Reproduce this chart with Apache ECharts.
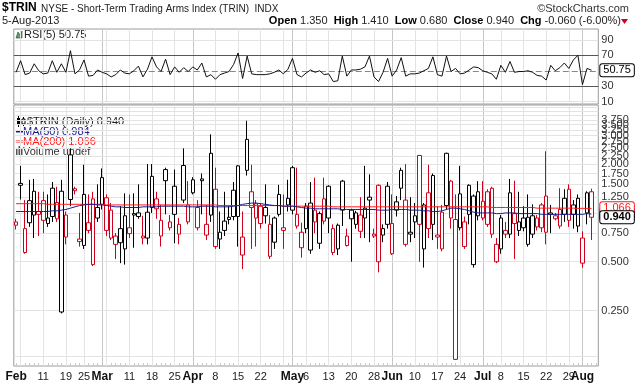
<!DOCTYPE html>
<html><head><meta charset="utf-8">
<script src="https://cdn.jsdelivr.net/npm/echarts@6/dist/echarts.min.js"></script>
<style>html,body{margin:0;padding:0;background:#fff}#c{width:640px;height:383px}</style>
</head><body><div id="c"></div>
<script>
// ---------------- data ----------------
const asOf = '5-Aug-2013';
const dates = [
'2/1','2/4','2/5','2/6','2/7','2/8','2/11','2/12','2/13','2/14','2/15','2/19','2/20','2/21','2/22','2/25','2/26','2/27','2/28',
'3/1','3/4','3/5','3/6','3/7','3/8','3/11','3/12','3/13','3/14','3/15','3/18','3/19','3/20','3/21','3/22','3/25','3/26','3/27','3/28',
'4/1','4/2','4/3','4/4','4/5','4/8','4/9','4/10','4/11','4/12','4/15','4/16','4/17','4/18','4/19','4/22','4/23','4/24','4/25','4/26','4/29','4/30',
'5/1','5/2','5/3','5/6','5/7','5/8','5/9','5/10','5/13','5/14','5/15','5/16','5/17','5/20','5/21','5/22','5/23','5/24','5/28','5/29','5/30','5/31',
'6/3','6/4','6/5','6/6','6/7','6/10','6/11','6/12','6/13','6/14','6/17','6/18','6/19','6/20','6/21','6/24','6/25','6/26','6/27','6/28',
'7/1','7/2','7/3','7/5','7/8','7/9','7/10','7/11','7/12','7/15','7/16','7/17','7/18','7/19','7/22','7/23','7/24','7/25','7/26','7/29','7/30','7/31',
'8/1','8/2','8/5'];
const opens = [0.88,1.52,0.57,1.19,0.97,1.02,1.19,0.86,0.95,1.16,
 0.245,0.71,1.21,1.41,0.665,0.63,0.87,1.22,0.93,1.65,
 1.24,1.04,0.72,0.655,0.60,0.81,0.99,0.95,0.72,0.70,
 1.08,1.06,0.72,1.58,0.81,0.98,0.74,1.96,1.12,1.60,
 0.81,1.62,0.85,2.33,1.40,0.69,0.78,0.94,0.95,0.95,
 0.55,1.83,1.35,1.14,1.10,1.08,0.54,0.66,0.98,0.81,
 1.12,1.04,0.83,0.61,1.10,0.59,1.04,0.65,1.22,1.46,
 0.80,0.84,1.04,0.72,1.04,0.85,0.77,0.93,1.25,0.74,
 1.48,0.73,0.85,0.86,1.04,1.42,1.20,0.74,0.96,2.26,
 0.60,1.33,0.85,0.73,1.01,1.11,1.57,0.125,0.81,0.88,
 1.48,0.48,0.96,0.93,1.35,1.42,0.50,0.60,0.78,0.74,
 0.99,0.78,0.81,0.64,0.74,0.93,1.12,1.27,1.00,0.96,
 1.05,1.23,1.40,0.98,0.83,0.70,1.33,1.35];
const highs = [0.92,1.95,1.20,1.60,1.62,1.35,1.35,1.30,1.55,1.45,
 1.60,1.02,2.50,1.45,1.00,1.98,1.30,1.35,1.50,1.88,
 1.30,1.15,0.75,1.10,1.32,1.30,1.32,1.50,0.96,2.00,
 2.00,1.35,1.12,1.90,0.97,1.85,0.93,2.50,1.57,1.66,
 1.20,1.75,1.12,3.05,1.90,1.02,1.35,1.10,1.55,1.97,
 1.02,3.70,1.98,1.20,1.15,1.50,0.97,0.95,1.49,1.30,
 1.60,1.95,1.90,0.87,1.15,1.55,1.65,1.02,1.65,1.48,
 0.85,0.86,1.60,0.80,1.06,1.03,1.25,1.95,1.73,0.80,
 1.50,0.85,1.55,1.30,1.27,1.90,2.00,1.25,1.15,2.28,
 1.15,1.98,1.75,1.10,1.12,2.35,1.60,1.30,1.95,0.95,
 1.50,1.30,1.57,1.57,1.40,1.45,0.70,0.97,0.88,1.62,
 1.58,1.35,1.10,1.30,1.13,0.97,1.15,2.40,1.12,1.00,
 1.42,1.40,1.50,1.20,1.30,0.77,1.36,1.41];
const lows = [0.79,1.21,0.56,0.82,0.70,0.72,0.75,0.82,0.88,0.88,
 0.24,0.64,1.10,1.30,0.62,0.60,0.75,0.47,0.88,1.05,
 0.72,0.68,0.52,0.49,0.48,0.70,0.61,0.92,0.64,0.64,
 1.00,0.92,0.62,0.98,0.78,0.65,0.64,1.15,0.85,1.30,
 0.78,0.98,0.68,0.88,0.60,0.60,0.72,0.85,0.90,0.62,
 0.45,1.70,0.60,0.62,0.80,0.86,0.52,0.60,0.95,0.60,
 1.02,0.98,0.80,0.53,0.75,0.56,0.75,0.60,0.85,0.75,
 0.55,0.55,0.83,0.62,0.50,0.80,0.70,0.70,0.66,0.70,
 0.43,0.66,0.80,0.55,0.95,1.20,0.62,0.66,0.70,0.50,
 0.46,0.70,0.68,0.60,0.58,1.05,0.80,0.124,0.78,0.60,
 0.85,0.46,0.90,0.90,0.82,0.70,0.49,0.56,0.70,0.70,
 0.52,0.72,0.77,0.62,0.70,0.78,0.76,0.64,0.75,0.90,
 0.80,0.88,0.82,0.80,0.76,0.46,0.85,0.68];
const closes = [0.84,1.48,0.80,0.87,1.36,0.98,0.90,0.93,1.42,0.92,
 1.36,0.97,2.28,1.37,0.69,1.30,0.78,0.48,1.08,1.13,
 0.78,0.70,0.64,0.80,0.96,0.745,0.97,1.00,0.70,1.01,
 1.68,1.22,0.90,1.85,0.88,1.46,0.85,1.20,0.88,1.33,
 1.08,1.58,0.73,0.97,0.62,0.76,0.89,0.91,1.38,1.95,
 0.71,2.84,1.08,0.93,0.86,0.96,0.85,0.93,1.30,0.78,
 1.23,1.90,0.98,0.76,0.80,1.15,0.88,0.99,0.89,0.93,
 0.57,0.60,1.57,0.63,0.92,1.00,0.97,1.07,1.20,0.72,
 0.50,0.80,1.46,0.56,1.17,1.83,0.64,0.76,0.88,0.85,
 1.12,0.80,1.70,0.71,0.60,2.33,0.93,0.91,1.31,0.62,
 0.98,1.27,1.35,1.18,0.85,0.74,0.64,0.93,0.74,1.33,
 0.86,0.88,0.93,0.94,0.96,0.82,0.81,0.76,0.98,0.92,
 0.83,0.98,0.90,1.12,1.23,0.49,1.00,0.94];
const prevClose0 = 0.95;
const ma50 = [1.02,1.02,1.02,1.02,1.02,1.02,1.02,1.02,1.03,1.03,
 1.04,1.05,1.07,1.09,1.11,1.12,1.13,1.13,1.12,1.12,
 1.11,1.10,1.09,1.09,1.08,1.08,1.08,1.08,1.09,1.09,
 1.09,1.09,1.10,1.10,1.10,1.10,1.10,1.10,1.09,1.09,
 1.09,1.10,1.10,1.10,1.09,1.09,1.09,1.09,1.10,1.11,
 1.13,1.14,1.15,1.15,1.14,1.13,1.12,1.11,1.11,1.10,
 1.10,1.10,1.09,1.08,1.07,1.07,1.06,1.06,1.06,1.06,
 1.06,1.06,1.05,1.05,1.05,1.05,1.05,1.05,1.05,1.05,
 1.04,1.04,1.04,1.05,1.05,1.05,1.05,1.04,1.04,1.04,
 1.03,1.03,1.02,1.02,1.03,1.05,1.07,1.07,1.06,1.05,
 1.03,1.01,1.00,1.00,1.00,1.00,0.99,0.99,1.00,1.00,
 1.00,0.99,0.99,0.99,0.99,0.99,0.98,0.98,0.98,0.98,
 0.98,0.98,0.98,0.98,0.98,0.98,0.99,0.984];
const ma200 = [1.14,1.14,1.14,1.14,1.14,1.14,1.14,1.13,1.13,1.13,
 1.13,1.13,1.13,1.13,1.13,1.13,1.13,1.13,1.13,1.13,
 1.12,1.12,1.12,1.12,1.12,1.12,1.12,1.12,1.12,1.12,
 1.12,1.12,1.12,1.12,1.12,1.12,1.12,1.12,1.12,1.12,
 1.12,1.12,1.12,1.12,1.12,1.11,1.11,1.11,1.11,1.11,
 1.11,1.11,1.11,1.11,1.11,1.11,1.11,1.11,1.11,1.10,
 1.10,1.10,1.10,1.10,1.10,1.10,1.10,1.10,1.10,1.10,
 1.09,1.09,1.09,1.09,1.09,1.09,1.09,1.09,1.09,1.09,
 1.09,1.09,1.09,1.09,1.09,1.09,1.09,1.09,1.09,1.09,
 1.09,1.09,1.09,1.09,1.09,1.09,1.09,1.09,1.09,1.09,
 1.09,1.09,1.09,1.09,1.09,1.08,1.08,1.08,1.08,1.08,
 1.08,1.08,1.08,1.08,1.08,1.07,1.07,1.07,1.07,1.07,
 1.07,1.07,1.07,1.07,1.067,1.067,1.066,1.066];
const rsi5 = [48,63,45,47,59,50,46,47,63,48,
 59,48,76,46,51,64,43,44,51,48,
 46,42,45,51,47,46,50,56,42,52,
 68,55,49,65,45,55,48,54,49,55,
 51,60,42,45,39,45,47,49,58,73,
 40,69,46,45,45,45,46,48,51,46,
 52,66,45,42,47,51,48,50,45,46,
 36,37,69,43,51,51,52,55,69,42,
 36,48,66,43,51,67,43,46,46,47,
 50,53,68,45,43,69,49,53,46,47,
 51,55,54,50,48,46,39,57,48,62,
 48,49,49,50,48,44,43,38,57,50,
 54,60,53,64,70,32,53,50.75];
const tickDates  = ['2/1','2/11','2/19','2/25','3/1','3/11','3/18','3/25','4/1','4/8','4/15','4/22','5/1','5/6','5/13','5/20','5/28','6/3','6/10','6/17','6/24','7/1','7/8','7/15','7/22','7/29','8/1'];
const tickLabels = ['Feb','11','19','25','Mar','11','18','25','Apr','8','15','22','May','6','13','20','28','Jun','10','17','24','Jul','8','15','22','29','Aug'];
const extraGridDates = ['2/4','3/4','4/29'];
const priceTicks = [0.25,0.5,0.75,1.25,1.5,1.75,2,2.25,2.5,2.75,3,3.25,3.5,3.75];
const priceGridOnly = [0.125,1,4,4.25,4.5];
const rsiTicks = [90,70,30,10];

// ---------------- chart ----------------
const FONT = '"Liberation Sans", Arial, Helvetica, sans-serif';
const BLACK = '#000000', RED = '#d0021b', BLUE = '#1c1c8c', MARED = '#ff1a1a';
const n = dates.length;
const cats = dates.concat(['']);
const months = new Set(['Feb','Mar','Apr','May','Jun','Jul','Aug']);
const tickText = {}; tickDates.forEach((d,k)=>{ tickText[d] = tickLabels[k]; });

const candleData = opens.map((o,i)=>{
  const c = closes[i], pc = i ? closes[i-1] : prevClose0;
  const col = c >= pc ? BLACK : RED;
  return {value:[o, c, lows[i], highs[i]], itemStyle:{color:'#ffffff', color0:col, borderColor:col, borderColor0:col}};
});

const vGrid = tickDates.concat(extraGridDates).filter(d=>d!==dates[0]).map(d=>({
  xAxis: d, label:{show:false},
  lineStyle:{color: months.has(tickText[d]) ? '#c6c6c6' : '#e3e3e3', width:1, type:'solid'}
}));
const hMain = priceTicks.map(v=>({yAxis:v, label:{show:true, formatter:v.toFixed(3)}}))
  .concat(priceGridOnly.map(v=>({yAxis:v, label:{show:false}})));
const hRsi = rsiTicks.map(v=>({yAxis:v, label:{show:true, formatter:String(v)},
  lineStyle:{color:(v===70||v===30)?'#555':'#e3e3e3', width:1, type:'solid'}}))
  .concat([{yAxis:50, label:{show:false}, lineStyle:{color:'#888', width:1, type:[6,3]}}]);

const axisLbl = {show:true, position:'end', distance:3, fontSize:11, fontFamily:FONT, color:'#333'};
const gridMark = (data)=>({silent:true, symbol:['none','none'], z:1, animation:false,
  label:axisLbl, lineStyle:{color:'#e3e3e3', width:1, type:'solid'}, data});
const tag = (v, txt, col, bold)=>({yAxis:v, lineStyle:{color:'rgba(0,0,0,0)'},
  label:{show:true, position:'end', distance:2, formatter:txt, color:col, fontSize:11, fontFamily:FONT,
    fontWeight: bold?'bold':'normal', backgroundColor:'#fff', borderColor:col, borderWidth:1, borderRadius:2, padding:[1,3,0,3]}});

const last = n-1;
const chg = closes[last]-closes[last-1];
const f3 = v=>v.toFixed(3);

const chart = echarts.init(document.getElementById('c'), null, {renderer:'canvas'});
chart.setOption({
  animation:false,
  backgroundColor:'#fff',
  textStyle:{fontFamily:FONT},
  grid:[
    {left:13.8, right:41.7, top:29, height:75, show:true, borderColor:'#9a9a9a', borderWidth:1, backgroundColor:'transparent'},
    {left:13.8, right:41.7, top:105, height:262, show:true, borderColor:'#9a9a9a', borderWidth:1, backgroundColor:'transparent'}
  ],
  xAxis:[
    {type:'category', gridIndex:0, data:cats, boundaryGap:true, axisLine:{show:false}, axisTick:{show:false}, axisLabel:{show:false}, splitLine:{show:false}},
    {type:'category', gridIndex:1, data:cats, boundaryGap:true, axisLine:{show:false},
     axisTick:{show:true, inside:true, length:3, interval:0, alignWithLabel:true, lineStyle:{color:'#c8c8c8'}},
     splitLine:{show:false},
     axisLabel:{show:true, margin:5, fontSize:11, fontFamily:FONT, color:'#222', hideOverlap:false,
       interval:(i,v)=>(tickText[v]!==undefined || i===n),
       formatter:(v)=>{const t=tickText[v]; if(t===undefined) return ' '; return months.has(t)?'{m|'+t+'}':t;},
       rich:{m:{fontWeight:'bold', fontSize:12, fontFamily:FONT, color:'#111'}}}}
  ],
  yAxis:[
    {type:'value', gridIndex:0, min:7, max:104, show:false, splitLine:{show:false}},
    {type:'log', logBase:2, gridIndex:1, min:0.1138, max:4.627, show:false, splitLine:{show:false}}
  ],
  series:[
    {type:'line', xAxisIndex:0, yAxisIndex:0, data:rsi5, symbol:'none', silent:true, z:1,
     lineStyle:{opacity:0}, markLine:gridMark(vGrid.concat(hRsi))},
    {type:'line', xAxisIndex:1, yAxisIndex:1, data:closes, symbol:'none', silent:true, z:1,
     lineStyle:{opacity:0}, markLine:gridMark(vGrid.concat(hMain))},
    {type:'line', name:'RSI', xAxisIndex:0, yAxisIndex:0, data:rsi5, symbol:'none', z:3,
     lineStyle:{color:'#111', width:1},
     markLine:{silent:true, symbol:['none','none'], z:10, animation:false, data:[tag(rsi5[last], String(rsi5[last]), '#000', false)]}},
    {type:'candlestick', xAxisIndex:1, yAxisIndex:1, data:candleData, barWidth:4, z:2},
    {type:'line', xAxisIndex:1, yAxisIndex:1, data:ma200, symbol:'none', z:4, lineStyle:{color:MARED, width:1}},
    {type:'line', xAxisIndex:1, yAxisIndex:1, data:ma50, symbol:'none', z:4, lineStyle:{color:BLUE, width:1},
     markLine:{silent:true, symbol:['none','none'], z:10, animation:false, data:[
       tag(ma50[last], f3(ma50[last]), BLUE, false),
       tag(ma200[last], f3(ma200[last]), MARED, false),
       tag(closes[last], f3(closes[last]), '#000', true)]}}
  ],
  graphic:[
    {type:'text', left:2, top:2, style:{text:'$TRIN', fontSize:12, fontWeight:'bold', fontFamily:FONT, fill:'#000'}},
    {type:'text', left:41, top:4, style:{text:'NYSE - Short-Term Trading Arms Index (TRIN)  INDX', fontSize:10, fontFamily:FONT, fill:'#222'}},
    {type:'text', right:11, top:3, style:{text:'\u00a9StockCharts.com', fontSize:11, fontFamily:FONT, fill:'#333'}},
    {type:'text', left:2, top:15, style:{text:asOf, fontSize:11, fontFamily:FONT, fill:'#222'}},
    {type:'text', right:19, top:15, style:{
      text:'{b|Open} '+f3(opens[last])+'  {b|High} '+f3(highs[last])+'  {b|Low} '+f3(lows[last])+'  {b|Close} '+f3(closes[last])+'  {b|Chg} '+chg.toFixed(3)+' ('+(chg/closes[last-1]*100).toFixed(2)+'%)',
      fontSize:11, fontFamily:FONT, fill:'#222', rich:{b:{fontSize:11, fontWeight:'bold', fontFamily:FONT, fill:'#000'}}}},
    {type:'polygon', shape:{points:[[621,19],[628,19],[624.5,24]]}, style:{fill:RED}},
    // RSI legend
    {type:'polygon', shape:{points:[[16,38],[18,32],[20,35],[22,31],[22,38]]}, style:{fill:'#4caf50', stroke:'#333', lineWidth:0.6}},
    {type:'text', left:24, top:29, style:{text:'RSI(5) '+rsi5[last], fontSize:11, fontFamily:FONT, fill:'#222'}},
    // main legend
    {type:'line', shape:{x1:18.5, y1:116, x2:18.5, y2:127}, style:{stroke:'#000', lineWidth:1}},
    {type:'rect', shape:{x:17, y:118, width:3, height:6}, style:{fill:'#000'}},
    {type:'line', shape:{x1:23.5, y1:117, x2:23.5, y2:126}, style:{stroke:'#000', lineWidth:1}},
    {type:'rect', shape:{x:22, y:119, width:3, height:5}, style:{fill:'#fff', stroke:'#000', lineWidth:1}},
    {type:'text', left:27, top:116, style:{text:'$TRIN (Daily) '+f3(closes[last]), fontSize:11, fontFamily:FONT, fill:'#222'}},
    {type:'line', shape:{x1:16, y1:131.5, x2:23, y2:131.5}, style:{stroke:BLUE, lineWidth:2}},
    {type:'text', left:23, top:126, style:{text:'MA(50) '+f3(ma50[last]), fontSize:11, fontFamily:FONT, fill:BLUE}},
    {type:'line', shape:{x1:16, y1:141.5, x2:23, y2:141.5}, style:{stroke:MARED, lineWidth:2}},
    {type:'text', left:23, top:136, style:{text:'MA(200) '+f3(ma200[last]), fontSize:11, fontFamily:FONT, fill:MARED}},
    {type:'rect', shape:{x:16, y:148, width:1.5, height:7}, style:{fill:'#555'}},
    {type:'rect', shape:{x:18.5, y:146, width:1.5, height:9}, style:{fill:'#555'}},
    {type:'rect', shape:{x:21, y:149, width:1.5, height:6}, style:{fill:'#555'}},
    {type:'text', left:23, top:146, style:{text:'Volume undef', fontSize:11, fontFamily:FONT, fill:'#333'}}
  ]
});
</script>
</body></html>
